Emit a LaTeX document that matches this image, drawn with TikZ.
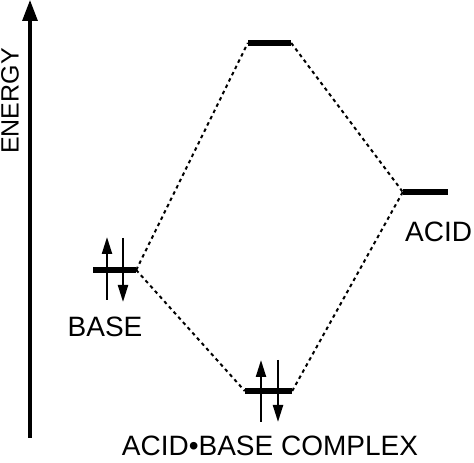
\documentclass[tikz,border=0pt]{standalone}
\usepackage{fontspec}
\setmainfont{Liberation Sans}
\usetikzlibrary{arrows.meta}

\begin{document}
\begin{tikzpicture}[x=1pt,y=1pt,
		level/.style={rectangle,fill=black,inner sep=0pt,minimum height=6pt},
		electron/.style={line width=2.2pt,-{Triangle[length=17pt,width=10pt]}},
		mixing/.style={line width=2pt,dash pattern=on 3.5pt off 3.5pt},
		label/.style={inner sep=0pt,font=\fontsize{28}{30}\selectfont}
		]
		\useasboundingbox (0,0) rectangle (474,463);
		
		% energy axis
		\coordinate (E0) at (30,25);
		\coordinate (E1) at (30,463);
		\draw[line width=3.2pt,-{Triangle[length=21pt,width=15pt]}] (E0) -- (E1);
		\node[label, font=\fontsize{25}{27}\selectfont, rotate=90](energy) at (10,362){ENERGY};
		
		% levels
		\node[level, minimum width=43pt](base) at (114.5,193){};
		\node[level, minimum width=47pt](complex) at (268.5,72){};
		\node[level, minimum width=43pt](top) at (269.5,420){};
		\node[level, minimum width=45pt](acid) at (425.5,271){};
		
		\draw[mixing] (base.east) -- (top.west);
		\draw[mixing] (top.east) -- (acid.west);
		\draw[mixing] (base.east) -- (complex.west);
		\draw[mixing] (complex.east) -- (acid.west);
		
		% electron pairs
		\draw[electron] ([shift={(-7.5,-30)}]base.center) -- ([shift={(-7.5,33)}]base.center);
		\draw[electron] ([shift={(8.5,32)}]base.center) -- ([shift={(8.5,-32)}]base.center);
		\draw[electron] ([shift={(-7.5,-31)}]complex.center) -- ([shift={(-7.5,31)}]complex.center);
		\draw[electron] ([shift={(9.5,31)}]complex.center) -- ([shift={(9.5,-31)}]complex.center);
		
		% labels
		\node[label](baselabel) at (105,136){BASE};
		\node[label, anchor=west](acidlabel) at (405,231){ACID};
		\node[label, anchor=base](complexlabel) at (270,7){ACID•BASE COMPLEX};
	\end{tikzpicture}
\end{document}
